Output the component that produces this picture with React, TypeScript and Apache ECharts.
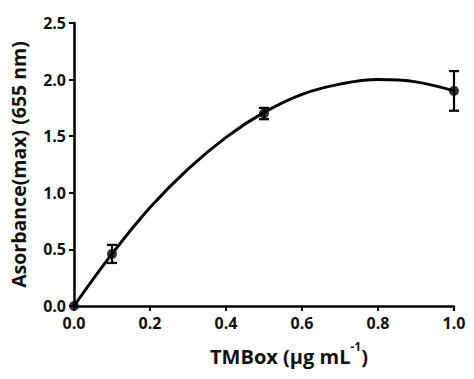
import React, { useEffect, useRef } from "react";
import * as echarts from "echarts";

const concentrations = [0, 0.1, 0.5, 1.0];
const absorbance = [0, 0.46, 1.7, 1.9];
const errors = [0, 0.08, 0.05, 0.175];

const fitX = [0, 0.1, 0.2, 0.3, 0.4, 0.5, 0.6, 0.7, 0.8, 0.9, 1.0];
const fitY = [0, 0.46, 0.87, 1.21, 1.49, 1.71, 1.87, 1.96, 2.0, 1.98, 1.9];

const xTicks = [0, 0.2, 0.4, 0.6, 0.8, 1.0];
const yTicks = [0, 0.5, 1.0, 1.5, 2.0, 2.5];

const FONT = "'Open Sans', 'Noto Sans', sans-serif";

export default function App() {
  const ref = useRef<HTMLDivElement>(null);
  useEffect(() => {
    if (!ref.current) return;
    const chart = echarts.init(ref.current, null, { renderer: "svg" });
    const option: any = {
      animation: false,
      backgroundColor: "#ffffff",
      grid: { left: 73, top: 23, right: 20, bottom: 73, containLabel: false },
      xAxis: {
        type: "value",
        min: xTicks[0],
        max: xTicks[xTicks.length - 1],
        interval: 0.2,
        name: "{n|TMBox (μg mL}{s|-1}{n|)}",
        nameLocation: "middle",
        nameGap: 34,
        nameTextStyle: {
          padding: [0, 0, 0, 50],
          rich: {
            n: { fontFamily: FONT, fontWeight: "bold", fontSize: 20, color: "#111", verticalAlign: "bottom", lineHeight: 26 },
            s: { fontFamily: FONT, fontWeight: "bold", fontSize: 12, color: "#111", verticalAlign: "top", padding: [0, 0, 10, 0] },
          },
        },
        axisLine: { show: true, onZero: false, lineStyle: { color: "#000", width: 2.5 } },
        axisTick: { show: true, length: 5, inside: false, lineStyle: { color: "#000", width: 2 } },
        axisLabel: {
          margin: 9,
          fontFamily: FONT,
          fontWeight: "bold",
          fontSize: 16,
          color: "#111",
          formatter: (v: number) => v.toFixed(1),
        },
        splitLine: { show: false },
      },
      yAxis: {
        type: "value",
        min: yTicks[0],
        max: yTicks[yTicks.length - 1],
        interval: 0.5,
        name: "Asorbance(max) (655 nm)",
        nameLocation: "middle",
        nameGap: 46,
        nameRotate: 90,
        nameTextStyle: { fontFamily: FONT, fontWeight: "bold", fontSize: 19.5, color: "#111" },
        axisLine: { show: true, onZero: false, lineStyle: { color: "#000", width: 2.5 } },
        axisTick: { show: true, length: 5, inside: false, lineStyle: { color: "#000", width: 2 } },
        axisLabel: {
          margin: 8,
          fontFamily: FONT,
          fontWeight: "bold",
          fontSize: 16,
          color: "#111",
          formatter: (v: number) => v.toFixed(1),
        },
        splitLine: { show: false },
      },
      series: [
        {
          type: "line",
          data: fitX.map((x, i) => [x, fitY[i]]),
          smooth: 0.4,
          showSymbol: false,
          symbol: "none",
          lineStyle: { color: "#000", width: 3 },
          z: 2,
        },
        {
          type: "custom",
          data: concentrations.map((x, i) => [x, absorbance[i], errors[i]]),
          renderItem: (params: any, api: any) => {
            const x = api.value(0);
            const y = api.value(1);
            const e = api.value(2);
            if (!e) return { type: "group", children: [] };
            const top = api.coord([x, y + e]);
            const bot = api.coord([x, y - e]);
            const hw = 5;
            const style = { stroke: "#000", lineWidth: 2.2 };
            return {
              type: "group",
              children: [
                { type: "line", shape: { x1: top[0], y1: top[1], x2: bot[0], y2: bot[1] }, style },
                { type: "line", shape: { x1: top[0] - hw, y1: top[1], x2: top[0] + hw, y2: top[1] }, style },
                { type: "line", shape: { x1: bot[0] - hw, y1: bot[1], x2: bot[0] + hw, y2: bot[1] }, style },
              ],
            };
          },
          z: 3,
        },
        {
          type: "scatter",
          data: concentrations.map((x, i) => [x, absorbance[i]]),
          symbol: "circle",
          symbolSize: 10,
          itemStyle: { color: "#000" },
          z: 4,
        },
      ],
    };
    chart.setOption(option);
    return () => chart.dispose();
  }, []);
  return <div ref={ref} style={{ width: 474, height: 379, margin: -8 }} />;
}
